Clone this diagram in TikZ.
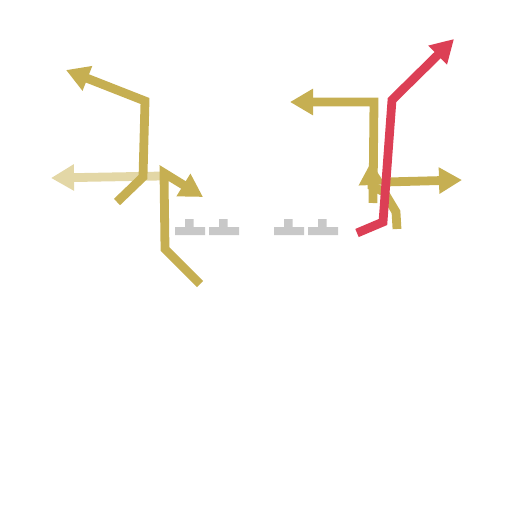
\documentclass[tikz,border=0pt]{standalone}
\usepackage{tikz}
\usetikzlibrary{arrows.meta}

\definecolor{lane}{HTML}{C6AF52}
\definecolor{lanelight}{HTML}{E3D7A6}
\definecolor{route}{HTML}{DC3F55}
\definecolor{stop}{HTML}{C8C8C8}

\begin{document}
\begin{tikzpicture}[x=0.05cm,y=-0.05cm,line width=0.44cm,line join=miter,
                    >={Triangle[length=1.15cm,width=1.25cm]}]
  \tikzstyle{turn}=[draw=lane,->]
  \tikzstyle{turn faded}=[draw=lanelight,->]
  \tikzstyle{main route}=[draw=route,->]
  \useasboundingbox (0,0) rectangle (512,512);

  % left junction
  \coordinate (LA0) at (117,202);
  \coordinate (LA1) at (143,177);
  \coordinate (LA2) at (145,101);
  \coordinate (LA3) at (66,70);
  \coordinate (LB0) at (162,176);
  \coordinate (LB1) at (51,178);
  \coordinate (LC0) at (200,284);
  \coordinate (LC1) at (165,249);
  \coordinate (LC2) at (164,173);
  \coordinate (LC3) at (203,197);

  % right junction
  \coordinate (RA0) at (373,203);
  \coordinate (RA1) at (374,102);
  \coordinate (RA2) at (290,102);
  \coordinate (RB0) at (397,229);
  \coordinate (RB1) at (396,212);
  \coordinate (RB2) at (384,192);
  \coordinate (RB3) at (372,186);
  \coordinate (RB4) at (371,162);
  \coordinate (RC0) at (385,182);
  \coordinate (RC1) at (462,180);
  \coordinate (RD0) at (357,233);
  \coordinate (RD1) at (383,222);
  \coordinate (RD2) at (392,100);
  \coordinate (RD3) at (454,39);

  % stop lines
  \foreach \x in {175,209,274,308}
    \fill[stop] (\x,227) rectangle ++(30,8)
                (\x+10,219) rectangle ++(8.5,8.5);

  \path[turn faded] (LB0) -- (LB1);
  \path[turn] (LA0) -- (LA1) -- (LA2) -- (LA3);
  \path[turn] (LC0) -- (LC1) -- (LC2) -- (LC3);

  \path[turn] (RA0) -- (RA1) -- (RA2);
  \path[turn] (RB0) -- (RB1) -- (RB2) -- (RB3) -- (RB4);
  \path[turn] (RC0) -- (RC1);
  \path[main route] (RD0) -- (RD1) -- (RD2) -- (RD3);
\end{tikzpicture}
\end{document}
